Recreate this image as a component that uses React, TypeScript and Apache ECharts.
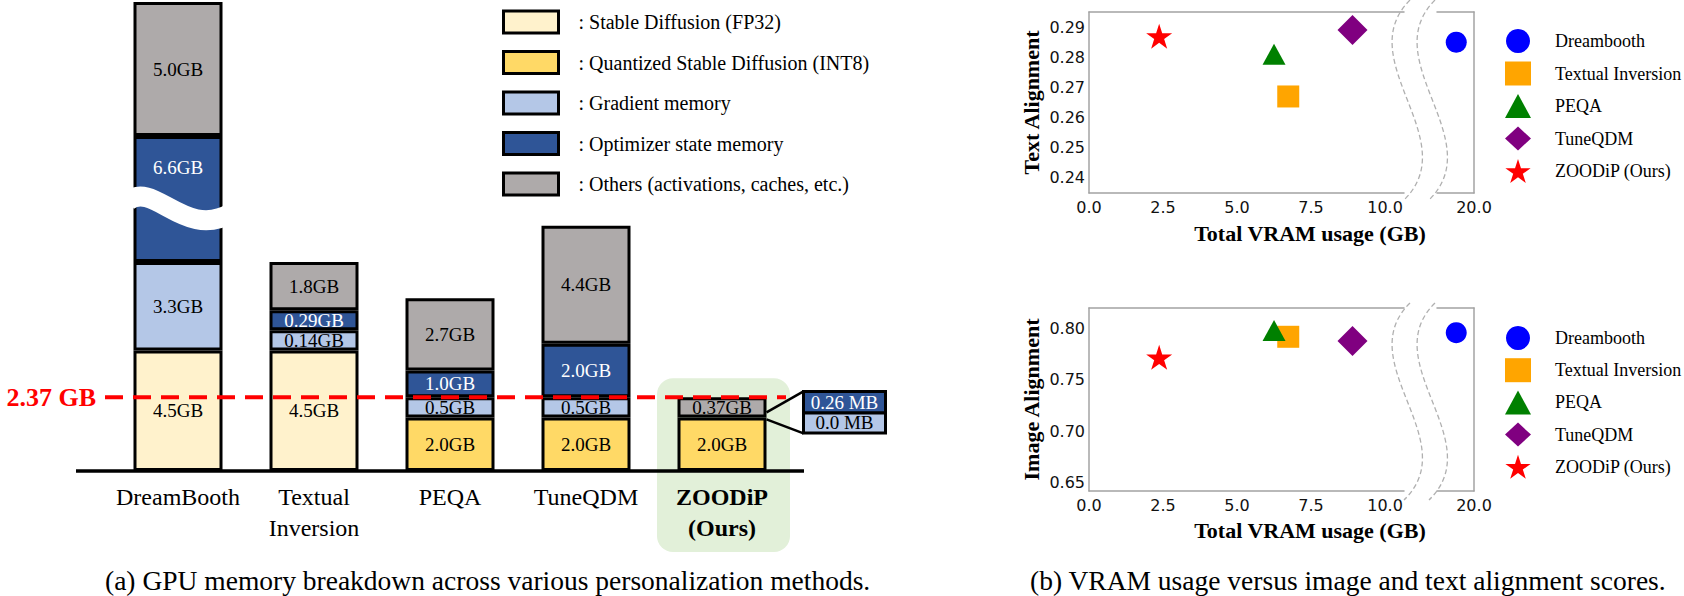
import React, { useEffect, useRef } from 'react';
import * as echarts from 'echarts';

// ---------- (a) GPU memory breakdown ----------
const categories = ['DreamBooth', 'Textual\nInversion', 'PEQA', 'TuneQDM', 'ZOODiP\n(Ours)'];
const memNames = [
  'Stable Diffusion (FP32)',
  'Quantized Stable Diffusion (INT8)',
  'Gradient memory',
  'Optimizer state memory',
  'Others (activations, caches, etc.)',
];
const fp32Mem = [4.5, 4.5, 0, 0, 0];
const int8Mem = [0, 0, 2.0, 2.0, 2.0];
const gradMem = [3.3, 0.14, 0.5, 0.5, 0.0];
const optMem = [6.6, 0.29, 1.0, 2.0, 0.00026];
const otherMem = [5.0, 1.8, 2.7, 4.4, 0.37];

// ---------- (b) VRAM vs alignment ----------
const methods = ['Dreambooth', 'Textual Inversion', 'PEQA', 'TuneQDM', 'ZOODiP (Ours)'];
const vramGB = [19.4, 6.73, 6.25, 8.9, 2.37];
const textAlignScore = [0.285, 0.267, 0.281, 0.289, 0.287];
const imageAlignScore = [0.796, 0.792, 0.798, 0.788, 0.772];
const xTicksLeft = [0, 2.5, 5, 7.5, 10];
const xTicksRight = [20];
const textTicks = [0.24, 0.25, 0.26, 0.27, 0.28, 0.29];
const imageTicks = [0.65, 0.7, 0.75, 0.8];

// ---------- styles ----------
const SERIF = '"Liberation Serif", "Times New Roman", Times, serif';
const SANS = '"DejaVu Sans", "Noto Sans", sans-serif';
const memColors = ['#FFF2CC', '#FFD966', '#B4C7E7', '#2F5597', '#AEAAAA'];
const methodColors = ['#0000FF', '#FFA500', '#008000', '#800080', '#FF0000'];
const STAR =
  'path://M50,0L61.2,34.5L97.6,34.5L68.2,55.9L79.4,90.5L50,69.1L20.6,90.5L31.8,55.9L2.4,34.5L38.8,34.5Z';
const methodSymbols = ['circle', 'rect', 'triangle', 'diamond', STAR];
const methodSizes = [[21, 21], [22, 22], [23, 21], [30, 30], [26, 25]];
const FRAME = '#a3a3a3';
const MIN_H = 0.75; // minimum drawn height of a small segment
const BREAK_GAP = 1.9; // amount cut out of the broken DreamBooth optimizer segment
const LEFT_MAX = 10.64;
const RIGHT_MIN = 18.75;
const RIGHT_MAX = 20;

const dispH = (v: number) => (v < 0.01 ? 0 : Math.max(v, MIN_H));
const fmtGB = (v: number) =>
  (Math.abs(v * 10 - Math.round(v * 10)) < 1e-9 ? v.toFixed(1) : v.toFixed(2)) + 'GB';
const fmtMB = (v: number) => (v === 0 ? '0.0' : (v * 1000).toFixed(2)) + ' MB';

export default function App() {
  const ref = useRef<HTMLDivElement>(null);

  useEffect(() => {
    if (!ref.current) return;
    const chart = echarts.init(ref.current, undefined, { renderer: 'svg' });
    const memArrays = [fp32Mem, int8Mem, gradMem, optMem, otherMem];

    const barSeries = memArrays.map((arr, s) => ({
      type: 'bar',
      name: memNames[s],
      stack: 'mem',
      xAxisIndex: 0,
      yAxisIndex: 0,
      barWidth: 89,
      z: 2,
      itemStyle: { color: memColors[s], borderColor: '#000', borderWidth: 3 },
      label: {
        show: true,
        position: 'inside',
        color: s === 3 ? '#fff' : '#000',
        fontSize: 19,
        fontFamily: SERIF,
        formatter: (p: any) => fmtGB(p.data.real),
      },
      data: arr.map((v, i) => {
        const broken = s === 3 && i === 0;
        const item: any = { value: v < 0.01 ? '-' : dispH(v) - (broken ? BREAK_GAP : 0), real: v };
        if (broken) item.label = { position: 'insideTop', distance: 22 };
        return item;
      }),
    }));

    const scatterSeries: any[] = [];
    [textAlignScore, imageAlignScore].forEach((arr, plot) => {
      methods.forEach((m, i) => {
        const right = vramGB[i] > LEFT_MAX ? 1 : 0;
        const gi = 1 + plot * 2 + right;
        scatterSeries.push({
          type: 'scatter',
          name: m,
          xAxisIndex: gi,
          yAxisIndex: gi,
          symbol: methodSymbols[i],
          symbolSize: methodSizes[i],
          itemStyle: { color: methodColors[i], opacity: 1 },
          z: 5,
          data: [[vramGB[i], arr[i]]],
        });
      });
    });

    const tickLabel = { fontFamily: SANS, fontSize: 16, color: '#111' };
    const frameLine = { show: true, onZero: false, lineStyle: { color: FRAME, width: 1.5 } };
    const scatterX = (gi: number, left: boolean) => ({
      type: 'value',
      gridIndex: gi,
      min: left ? 0 : RIGHT_MIN,
      max: left ? LEFT_MAX : RIGHT_MAX,
      axisLine: frameLine,
      axisTick: { show: false },
      splitLine: { show: false },
      axisLabel: {
        ...tickLabel,
        margin: 6,
        customValues: left ? xTicksLeft : xTicksRight,
        formatter: (v: number) => v.toFixed(1),
      },
    });
    const topFrame = (gi: number, left: boolean) => ({
      type: 'value',
      gridIndex: gi,
      position: 'top',
      min: left ? 0 : RIGHT_MIN,
      max: left ? LEFT_MAX : RIGHT_MAX,
      axisLine: frameLine,
      axisTick: { show: false },
      splitLine: { show: false },
      axisLabel: { show: false },
    });
    const scatterY = (gi: number, left: boolean, min: number, max: number, ticks: number[], name: string) => ({
      type: 'value',
      gridIndex: gi,
      position: left ? 'left' : 'right',
      min,
      max,
      axisLine: frameLine,
      axisTick: { show: false },
      splitLine: { show: false },
      name: left ? name : '',
      nameLocation: 'middle',
      nameGap: 47,
      nameTextStyle: { fontFamily: SERIF, fontWeight: 'bold', fontSize: 22, color: '#000' },
      axisLabel: left
        ? { ...tickLabel, margin: 4, customValues: ticks, formatter: (v: number) => v.toFixed(2) }
        : { show: false },
    });

    const legendCommon = {
      orient: 'vertical',
      selectedMode: false,
      padding: 0,
    };
    const methodLegendText = {
      fontFamily: SERIF, fontSize: 18, color: '#000', lineHeight: 22, padding: [0, 0, 0, 19],
    };

    const option: any = {
      animation: false,
      backgroundColor: '#ffffff',
      grid: [
        { left: 110, top: 2, width: 680, height: 469 },
        { left: 1089, top: 12, width: 315, height: 181 },
        { left: 1437, top: 12, width: 37, height: 181 },
        { left: 1089, top: 308, width: 315, height: 183 },
        { left: 1437, top: 308, width: 37, height: 183 },
      ],
      legend: [
        {
          ...legendCommon,
          data: memNames,
          left: 502,
          top: 9.5,
          icon: 'rect',
          itemWidth: 55,
          itemHeight: 22,
          itemGap: 15.5,
          itemStyle: { borderColor: '#000', borderWidth: 3 },
          formatter: (n: string) => ': ' + n,
          textStyle: { fontFamily: SERIF, fontSize: 20, color: '#000', lineHeight: 22, padding: [0, 0, 0, 15] },
        },
        {
          ...legendCommon,
          data: methods,
          left: 1505,
          top: 29,
          itemWidth: 26,
          itemHeight: 24,
          itemGap: 8.5,
          textStyle: methodLegendText,
        },
        {
          ...legendCommon,
          data: methods,
          left: 1505,
          top: 326,
          itemWidth: 26,
          itemHeight: 24,
          itemGap: 8.2,
          textStyle: methodLegendText,
        },
      ],
      xAxis: [
        {
          type: 'category',
          gridIndex: 0,
          data: categories,
          axisLine: { show: false },
          axisTick: { show: false },
          z: 3,
          axisLabel: {
            fontFamily: SERIF,
            fontSize: 24,
            lineHeight: 31,
            color: '#000',
            margin: 10.5,
            interval: 0,
            formatter: (v: string) =>
              v.startsWith('ZOODiP') ? v.split('\n').map((s) => '{b|' + s + '}').join('\n') : v,
            rich: { b: { fontFamily: SERIF, fontSize: 24, lineHeight: 31, fontWeight: 'bold', color: '#000' } },
          },
        },
        scatterX(1, true),
        scatterX(2, false),
        scatterX(3, true),
        scatterX(4, false),
        topFrame(1, true),
        topFrame(2, false),
        topFrame(3, true),
        topFrame(4, false),
      ],
      yAxis: [
        { type: 'value', gridIndex: 0, min: 0, max: 17.5, show: false },
        scatterY(1, true, 0.235, 0.295, textTicks, 'Text Alignment'),
        scatterY(2, false, 0.235, 0.295, textTicks, ''),
        scatterY(3, true, 0.642, 0.82, imageTicks, 'Image Alignment'),
        scatterY(4, false, 0.642, 0.82, imageTicks, ''),
      ],
      series: [...barSeries, ...scatterSeries],
    };
    chart.setOption(option);

    // ----- decorations positioned via the library's scales -----
    const px = (gi: number, x: number, y: number) => chart.convertToPixel({ gridIndex: gi }, [x, y]) as number[];
    const last = categories.length - 1;
    const [x0, yBase] = px(0, 0, 0);
    const [xL] = px(0, last, 0);
    const half = 44.5;
    const stackTop = (i: number) => memArrays.reduce((a, arr) => a + dispH(arr[i]), 0);
    const ourTotal = memArrays.reduce((a, arr) => a + arr[last], 0);
    const yOurs = px(0, last, stackTop(last))[1];
    const yQuant = px(0, last, fp32Mem[last] + int8Mem[last])[1];
    const yWave = px(0, 0, fp32Mem[0] + gradMem[0] + 2.1)[1];
    const barRight = xL + half;
    const insetX = barRight + 37;

    const break1 = (ox: number, oy: number, sy: number) => ({
      type: 'bezierCurve',
      z: 20,
      shape: {
        x1: ox, y1: oy,
        cpx1: ox - 60, cpy1: oy + 60 * sy,
        cpx2: ox + 55, cpy2: oy + 140 * sy,
        x2: ox - 6, y2: oy + 200 * sy,
      },
      style: { stroke: '#b0b0b0', lineWidth: 1.3, lineDash: [5, 3], fill: null },
    });

    const graphics: any[] = [
      // highlight behind ours
      {
        type: 'rect', z: -1,
        shape: { x: xL - 65, y: yOurs - 19, width: 133, height: yBase + 81 - (yOurs - 19), r: 16 },
        style: { fill: '#E2F0D9' },
      },
      // baseline
      {
        type: 'line', z: 4,
        shape: { x1: x0 - 102, y1: yBase, x2: xL + 82, y2: yBase },
        style: { stroke: '#000', lineWidth: 3.5 },
      },
      // broken bar wave
      {
        type: 'bezierCurve', z: 10,
        shape: {
          x1: x0 - 50, y1: yWave - 5,
          cpx1: x0 - 23, cpy1: yWave - 25,
          cpx2: x0 + 7, cpy2: yWave + 35,
          x2: x0 + 54, y2: yWave + 7,
        },
        style: { stroke: '#fff', lineWidth: 20, fill: null },
      },
      // red dashed reference line
      {
        type: 'line', z: 12,
        shape: { x1: x0 - 73, y1: yOurs, x2: xL + 64, y2: yOurs },
        style: { stroke: '#FF0000', lineWidth: 4, lineDash: [18, 10] },
      },
      {
        type: 'text', z: 12, x: x0 - 82, y: yOurs,
        style: {
          text: ourTotal.toFixed(2) + ' GB', fill: '#FF0000', font: `bold 26px ${SERIF}`,
          align: 'right', verticalAlign: 'middle',
        },
      },
      // zoom inset
      {
        type: 'line', z: 12,
        shape: { x1: barRight, y1: yQuant - 5, x2: insetX, y2: yQuant - 26 },
        style: { stroke: '#000', lineWidth: 2.5 },
      },
      {
        type: 'line', z: 12,
        shape: { x1: barRight, y1: yQuant + 2, x2: insetX, y2: yQuant + 16 },
        style: { stroke: '#000', lineWidth: 2.5 },
      },
      {
        type: 'rect', z: 12,
        shape: { x: insetX, y: yQuant - 26, width: 82, height: 21.5 },
        style: { fill: memColors[3], stroke: '#000', lineWidth: 3 },
      },
      {
        type: 'rect', z: 12,
        shape: { x: insetX, y: yQuant - 4.5, width: 82, height: 20 },
        style: { fill: memColors[2], stroke: '#000', lineWidth: 3 },
      },
      {
        type: 'text', z: 13, x: insetX + 41, y: yQuant - 14.5,
        style: { text: fmtMB(optMem[last]), fill: '#fff', font: `19px ${SERIF}`, align: 'center', verticalAlign: 'middle' },
      },
      {
        type: 'text', z: 13, x: insetX + 41, y: yQuant + 5.5,
        style: { text: fmtMB(gradMem[last]), fill: '#000', font: `19px ${SERIF}`, align: 'center', verticalAlign: 'middle' },
      },
      // captions
      {
        type: 'text', x: 105, y: 580,
        style: {
          text: '(a) GPU memory breakdown across various personalization methods.',
          fill: '#000', font: `27.5px ${SERIF}`, align: 'left', verticalAlign: 'middle',
        },
      },
      {
        type: 'text', x: 1030, y: 580,
        style: {
          text: '(b) VRAM usage versus image and text alignment scores.',
          fill: '#000', font: `27.5px ${SERIF}`, align: 'left', verticalAlign: 'middle',
        },
      },
      // x axis names
      {
        type: 'text', x: 1310, y: 233,
        style: { text: 'Total VRAM usage (GB)', fill: '#000', font: `bold 22px ${SERIF}`, align: 'center', verticalAlign: 'middle' },
      },
      {
        type: 'text', x: 1310, y: 530,
        style: { text: 'Total VRAM usage (GB)', fill: '#000', font: `bold 22px ${SERIF}`, align: 'center', verticalAlign: 'middle' },
      },
      // axis-break marks
      break1(1410, 0, 1),
      break1(1435, 0, 1),
      break1(1410, 303, 0.985),
      break1(1435, 303, 0.985),
    ];
    chart.setOption({ graphic: { elements: graphics } });

    return () => chart.dispose();
  }, []);

  return (
    <div
      ref={ref}
      style={{ position: 'fixed', left: 0, top: 0, width: 1684, height: 596, background: '#fff' }}
    />
  );
}
